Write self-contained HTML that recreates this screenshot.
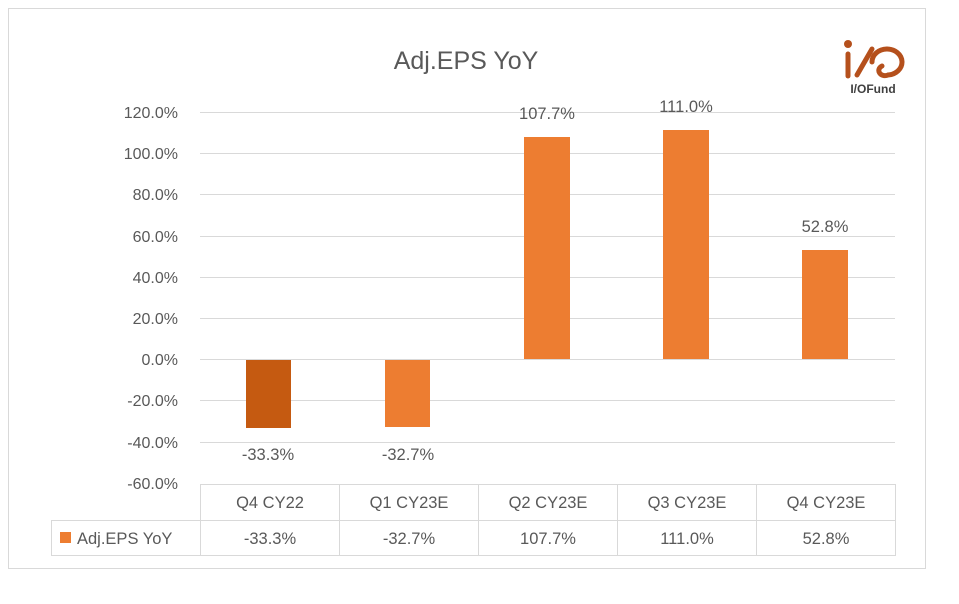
<!DOCTYPE html>
<html><head><meta charset="utf-8"><style>
body{margin:0;background:#fff;width:959px;height:599px;overflow:hidden}
svg text{font-family:"Liberation Sans",sans-serif;fill:#595959}
</style></head><body>
<svg width="959" height="599" xmlns="http://www.w3.org/2000/svg">
<rect x="8.5" y="8.5" width="917" height="560" fill="#fff" stroke="#d9d9d9"/>
<text x="466" y="69" font-size="25" text-anchor="middle">Adj.EPS YoY</text>
<g stroke="#d9d9d9" stroke-width="1">
<line x1="200" x2="895" y1="112.5" y2="112.5"/>
<line x1="200" x2="895" y1="153.5" y2="153.5"/>
<line x1="200" x2="895" y1="194.5" y2="194.5"/>
<line x1="200" x2="895" y1="236.5" y2="236.5"/>
<line x1="200" x2="895" y1="277.5" y2="277.5"/>
<line x1="200" x2="895" y1="318.5" y2="318.5"/>
<line x1="200" x2="895" y1="359.5" y2="359.5"/>
<line x1="200" x2="895" y1="400.5" y2="400.5"/>
<line x1="200" x2="895" y1="442.5" y2="442.5"/>
<line x1="200" x2="895" y1="484.5" y2="484.5"/>
<line x1="51" x2="895" y1="520.5" y2="520.5"/>
<line x1="51" x2="895" y1="555.5" y2="555.5"/>
<line x1="51.5" x2="51.5" y1="520" y2="556"/>
<line x1="200.5" x2="200.5" y1="484" y2="556"/>
<line x1="339.5" x2="339.5" y1="484" y2="556"/>
<line x1="478.5" x2="478.5" y1="484" y2="556"/>
<line x1="617.5" x2="617.5" y1="484" y2="556"/>
<line x1="756.5" x2="756.5" y1="484" y2="556"/>
<line x1="895.5" x2="895.5" y1="484" y2="556"/>
</g>
<g font-size="16" text-anchor="end">
<text x="178" y="118">120.0%</text>
<text x="178" y="159">100.0%</text>
<text x="178" y="200">80.0%</text>
<text x="178" y="242">60.0%</text>
<text x="178" y="283">40.0%</text>
<text x="178" y="324">20.0%</text>
<text x="178" y="365">0.0%</text>
<text x="178" y="406">-20.0%</text>
<text x="178" y="448">-40.0%</text>
<text x="178" y="489">-60.0%</text>
</g>
<rect x="246" y="360" width="45" height="68" fill="#C55A11"/>
<rect x="385" y="360" width="45" height="67" fill="#ED7D31"/>
<rect x="524" y="137" width="46" height="222" fill="#ED7D31"/>
<rect x="663" y="130" width="46" height="229" fill="#ED7D31"/>
<rect x="802" y="250" width="46" height="109" fill="#ED7D31"/>
<g font-size="16.5" text-anchor="middle">
<text x="268" y="460">-33.3%</text>
<text x="408" y="460">-32.7%</text>
<text x="547" y="119">107.7%</text>
<text x="686" y="112">111.0%</text>
<text x="825" y="232">52.8%</text>
<text x="270" y="508">Q4 CY22</text>
<text x="409" y="508">Q1 CY23E</text>
<text x="548" y="508">Q2 CY23E</text>
<text x="687" y="508">Q3 CY23E</text>
<text x="826" y="508">Q4 CY23E</text>
<text x="270" y="544">-33.3%</text>
<text x="409" y="544">-32.7%</text>
<text x="548" y="544">107.7%</text>
<text x="687" y="544">111.0%</text>
<text x="826" y="544">52.8%</text>
</g>
<rect x="60" y="532" width="11" height="11" fill="#ED7D31"/>
<text x="77" y="544" font-size="16.5">Adj.EPS YoY</text>
<g fill="none" stroke="#B5501C" stroke-width="5" stroke-linecap="round">
<line x1="848" y1="54" x2="848" y2="76"/>
<line x1="857" y1="75" x2="872" y2="49"/>
<path d="M872 62 A15 13 0 1 1 888 75 A6 5 0 0 1 882 66"/>
</g>
<circle cx="848" cy="44" r="4" fill="#B5501C"/>
<text x="873" y="93" font-size="12" font-weight="bold" text-anchor="middle" style="fill:#404040">I/OFund</text>
</svg>
</body></html>
